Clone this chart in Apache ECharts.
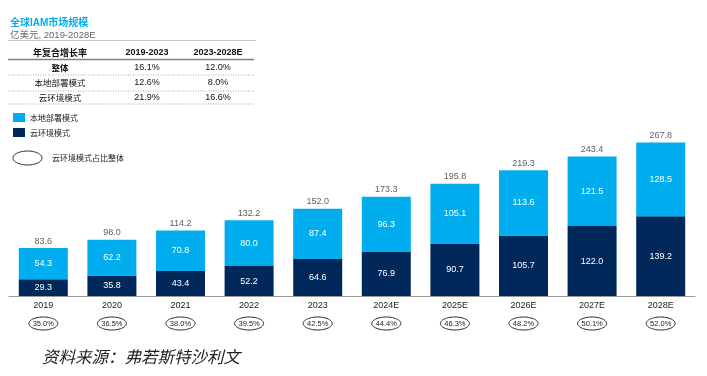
<!DOCTYPE html>
<html>
<head>
<meta charset="utf-8">
<script src="https://cdn.jsdelivr.net/npm/echarts@6/dist/echarts.min.js"></script>
<style>html,body{margin:0;padding:0;background:#fff}#c{width:707px;height:376px}</style>
</head>
<body>
<div id="c"></div>
<script>
var years = ['2019','2020','2021','2022','2023','2024E','2025E','2026E','2027E','2028E'];
var onPremise = [54.3, 62.2, 70.8, 80.0, 87.4, 96.3, 105.1, 113.6, 121.5, 128.5];
var cloud = [29.3, 35.8, 43.4, 52.2, 64.6, 76.9, 90.7, 105.7, 122.0, 139.2];
var totals = [83.6, 98.0, 114.2, 132.2, 152.0, 173.3, 195.8, 219.3, 243.4, 267.8];
var cloudShare = [35.0, 36.5, 38.0, 39.5, 42.5, 44.4, 46.3, 48.2, 50.1, 52.0];
var cagrHeader = ['年复合增长率', '2019-2023', '2023-2028E'];
var cagrRows = ['整体', '本地部署模式', '云环境模式'];
var cagr1923 = ['16.1%', '12.6%', '21.9%'];
var cagr2328 = ['12.0%', '8.0%', '16.6%'];

var FONT = '"Liberation Sans", "Noto Sans CJK SC", sans-serif';
var CJK = '"Noto Sans CJK SC", sans-serif';
var LIGHT = '#00AEEF', DARK = '#00285A';

function ellipsePoints(cx, cy, rx, ry) {
  var pts = [];
  for (var k = 0; k < 72; k++) {
    var a = k / 72 * Math.PI * 2;
    pts.push([cx + rx * Math.cos(a), cy + ry * Math.sin(a)]);
  }
  return pts;
}

var graphics = [];
graphics.push({type:'line', shape:{x1:8,y1:40.5,x2:256,y2:40.5}, style:{stroke:'#c8c8c8', lineWidth:1}});
var colX = [60, 147, 218];
var rowY = [68, 83, 98];
graphics.push({type:'text', x:colX[0], y:52.5, style:{text:cagrHeader[0], font:'bold 9px ' + CJK, fill:'#111', align:'center', verticalAlign:'middle'}});
graphics.push({type:'text', x:colX[1], y:52.5, style:{text:cagrHeader[1], font:'bold 9px ' + FONT, fill:'#111', align:'center', verticalAlign:'middle'}});
graphics.push({type:'text', x:colX[2], y:52.5, style:{text:cagrHeader[2], font:'bold 9px ' + FONT, fill:'#111', align:'center', verticalAlign:'middle'}});
graphics.push({type:'line', shape:{x1:8,y1:59.5,x2:254,y2:59.5}, style:{stroke:'#808080', lineWidth:1.5}});
var sepY = [75, 91, 104];
for (var r = 0; r < cagrRows.length; r++) {
  graphics.push({type:'text', x:colX[0], y:rowY[r], style:{text:cagrRows[r], font:(r === 0 ? 'bold ' : '') + '8.5px ' + CJK, fill:'#111', align:'center', verticalAlign:'middle'}});
  graphics.push({type:'text', x:colX[1], y:rowY[r], style:{text:cagr1923[r], font:'9px ' + FONT, fill:'#111', align:'center', verticalAlign:'middle'}});
  graphics.push({type:'text', x:colX[2], y:rowY[r], style:{text:cagr2328[r], font:'9px ' + FONT, fill:'#111', align:'center', verticalAlign:'middle'}});
  graphics.push({type:'line', shape:{x1:8,y1:sepY[r],x2:254,y2:sepY[r]}, style:{stroke:'#aaaaaa', lineWidth:1, lineDash:[1,1.5]}});
}
graphics.push({type:'polygon', shape:{points: ellipsePoints(27.5, 158, 14.5, 7)}, style:{fill:'#fff', stroke:'#222', lineWidth:1}});
graphics.push({type:'text', x:52, y:158, style:{text:'云环境模式占比整体', font:'8px ' + CJK, fill:'#222', verticalAlign:'middle'}});
graphics.push({type:'text', x:42, y:357, style:{text:'资料来源：弗若斯特沙利文', font:'italic 16.5px ' + CJK, fill:'#222', verticalAlign:'middle'}});

var chart = echarts.init(document.getElementById('c'), null, {renderer:'canvas'});
chart.setOption({
  animation: false,
  title: {
    text: '全球IAM市场规模', subtext: '亿美元, 2019-2028E',
    left: 10, top: 17, padding: 0, itemGap: 0,
    textStyle: {fontSize: 10, fontWeight: 'bold', color: LIGHT, fontFamily: FONT, lineHeight: 12},
    subtextStyle: {fontSize: 9.5, color: '#666', fontFamily: FONT, lineHeight: 12}
  },
  legend: {
    data: ['本地部署模式', '云环境模式'],
    orient: 'vertical', left: 13, top: 113, padding: 0,
    itemWidth: 12, itemHeight: 9, itemGap: 6,
    icon: 'rect',
    textStyle: {fontSize: 8, color: '#222', fontFamily: CJK, lineHeight: 9},
    selectedMode: false
  },
  grid: {left: 9, right: 12, top: 124, bottom: 80, containLabel: false},
  xAxis: {
    type: 'category', data: years,
    axisLine: {show: true, lineStyle: {color: '#999', width: 1}},
    axisTick: {show: false},
    axisLabel: {fontSize: 9, color: '#222', fontFamily: FONT, margin: 5}
  },
  yAxis: {type: 'value', min: 0, max: 300, show: false, splitLine: {show: false}},
  series: [
    {
      name: '云环境模式', type: 'bar', stack: 'total', data: cloud, barWidth: 49,
      itemStyle: {color: DARK},
      label: {show: true, position: 'inside', color: '#fff', fontSize: 9, fontFamily: FONT,
        formatter: function (p) { return p.value.toFixed(1); }}
    },
    {
      name: '本地部署模式', type: 'bar', stack: 'total', data: onPremise, barWidth: 49,
      itemStyle: {color: LIGHT},
      label: {show: true, position: 'inside', color: '#fff', fontSize: 9, fontFamily: FONT,
        formatter: function (p) { return p.value.toFixed(1); }}
    },
    {
      name: 'total', type: 'scatter', data: totals, symbolSize: 1,
      itemStyle: {color: 'transparent'}, silent: true,
      label: {show: true, position: 'top', distance: 2, color: '#333', fontSize: 9, fontFamily: FONT,
        formatter: function (p) { return p.value.toFixed(1); }}
    },
    {
      name: 'share', type: 'custom', silent: true, clip: false, z: 10,
      data: cloudShare.map(function (v, i) { return [i, v]; }),
      encode: {x: 0, y: 1},
      renderItem: function (params, api) {
        var p = api.coord([api.value(0), 0]);
        var cx = p[0], cy = p[1] + 27.5;
        return {
          type: 'group',
          children: [
            {type: 'polygon', shape: {points: ellipsePoints(cx, cy, 14.5, 6.5)}, style: {fill: '#fff', stroke: '#222', lineWidth: 1}},
            {type: 'text', x: cx, y: cy + 0.5, style: {text: api.value(1).toFixed(1) + '%', font: '7.5px ' + FONT, fill: '#222', align: 'center', verticalAlign: 'middle'}}
          ]
        };
      }
    }
  ],
  graphic: graphics
});
</script>
</body>
</html>
